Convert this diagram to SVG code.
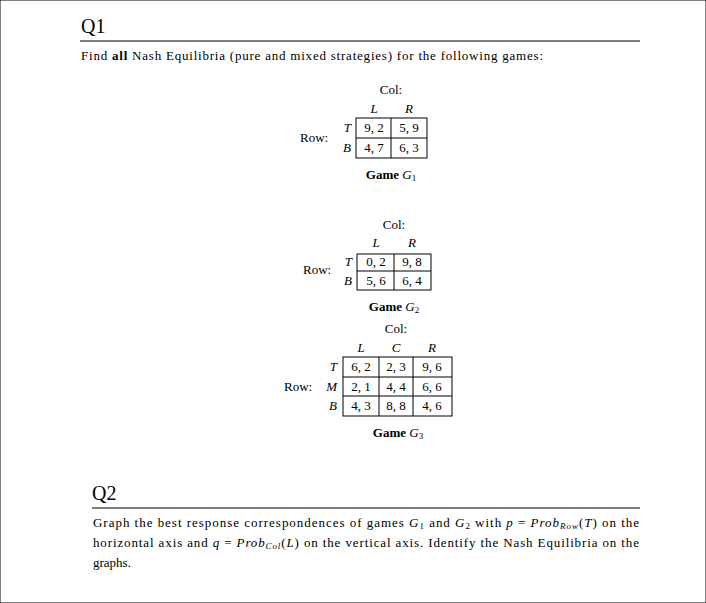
<svg xmlns="http://www.w3.org/2000/svg" width="706" height="603" viewBox="0 0 706 603">
<style>
text{font-family:"Liberation Serif",serif;font-size:13px;fill:#000}
.h{font-size:20px}
.i{font-style:italic}
.b{font-weight:bold}
.c{text-anchor:middle}
.r{text-anchor:end}
.s{font-size:9px}
line,rect{stroke:#000;stroke-width:1;fill:none}
</style>
<rect width="706" height="603" fill="#fff" stroke="none"/>
<text class="h" x="81" y="33">Q1</text>
<line x1="80" y1="41" x2="640" y2="41"/>
<text x="81" y="60" textLength="462">Find <tspan class="b">all</tspan> Nash Equilibria (pure and mixed strategies) for the following games:</text>
<g id="g1">
<text class="c" x="391" y="94">Col:</text>
<text class="c i" x="374" y="113">L</text><text class="c i" x="409" y="113">R</text>
<text class="i r" x="351" y="132">T</text><text class="i r" x="351" y="152">B</text>
<text x="300" y="142">Row:</text>
<rect x="356" y="118" width="71" height="40"/>
<line x1="391" y1="118" x2="391" y2="158"/><line x1="356" y1="138" x2="427" y2="138"/>
<text class="c" x="374" y="132">9, 2</text><text class="c" x="409" y="132">5, 9</text>
<text class="c" x="374" y="152">4, 7</text><text class="c" x="409" y="152">6, 3</text>
<text class="c" x="391" y="179"><tspan class="b">Game</tspan> <tspan class="i">G</tspan><tspan class="s" dy="2">1</tspan></text>
</g>
<g id="g2">
<text class="c" x="394" y="229">Col:</text>
<text class="c i" x="376" y="247">L</text><text class="c i" x="412" y="247">R</text>
<text class="i r" x="352" y="266">T</text><text class="i r" x="352" y="285">B</text>
<text x="303" y="274">Row:</text>
<rect x="357" y="254" width="74" height="36"/>
<line x1="394" y1="254" x2="394" y2="290"/><line x1="357" y1="271" x2="431" y2="271"/>
<text class="c" x="376" y="266">0, 2</text><text class="c" x="412" y="266">9, 8</text>
<text class="c" x="376" y="285">5, 6</text><text class="c" x="412" y="285">6, 4</text>
<text class="c" x="394" y="311"><tspan class="b">Game</tspan> <tspan class="i">G</tspan><tspan class="s" dy="2">2</tspan></text>
</g>
<g id="g3">
<text class="c" x="396" y="333">Col:</text>
<text class="c i" x="361" y="352">L</text><text class="c i" x="396" y="352">C</text><text class="c i" x="432" y="352">R</text>
<text class="i r" x="337" y="371">T</text><text class="i r" x="337" y="391">M</text><text class="i r" x="337" y="410">B</text>
<text x="284" y="391">Row:</text>
<rect x="343" y="357" width="109" height="59"/>
<line x1="379" y1="357" x2="379" y2="416"/><line x1="413" y1="357" x2="413" y2="416"/>
<line x1="343" y1="377" x2="452" y2="377"/><line x1="343" y1="396" x2="452" y2="396"/>
<text class="c" x="361" y="371">6, 2</text><text class="c" x="396" y="371">2, 3</text><text class="c" x="432" y="371">9, 6</text>
<text class="c" x="361" y="391">2, 1</text><text class="c" x="396" y="391">4, 4</text><text class="c" x="432" y="391">6, 6</text>
<text class="c" x="361" y="410">4, 3</text><text class="c" x="396" y="410">8, 8</text><text class="c" x="432" y="410">4, 6</text>
<text class="c" x="398" y="437"><tspan class="b">Game</tspan> <tspan class="i">G</tspan><tspan class="s" dy="2">3</tspan></text>
</g>
<text class="h" x="92" y="500">Q2</text>
<line x1="92" y1="508" x2="640" y2="508"/>
<text x="93" y="527" textLength="546">Graph the best response correspondences of games <tspan class="i">G</tspan><tspan class="s" dy="2">1</tspan><tspan dy="-2"> and </tspan><tspan class="i">G</tspan><tspan class="s" dy="2">2</tspan><tspan dy="-2"> with </tspan><tspan class="i">p</tspan> = <tspan class="i">Prob</tspan><tspan class="i s" dy="2">Row</tspan><tspan dy="-2">(</tspan><tspan class="i">T</tspan>) on the</text>
<text x="93" y="547" textLength="546">horizontal axis and <tspan class="i">q</tspan> = <tspan class="i">Prob</tspan><tspan class="i s" dy="2">Col</tspan><tspan dy="-2">(</tspan><tspan class="i">L</tspan>) on the vertical axis. Identify the Nash Equilibria on the</text>
<text x="93" y="567">graphs.</text>
</svg>
